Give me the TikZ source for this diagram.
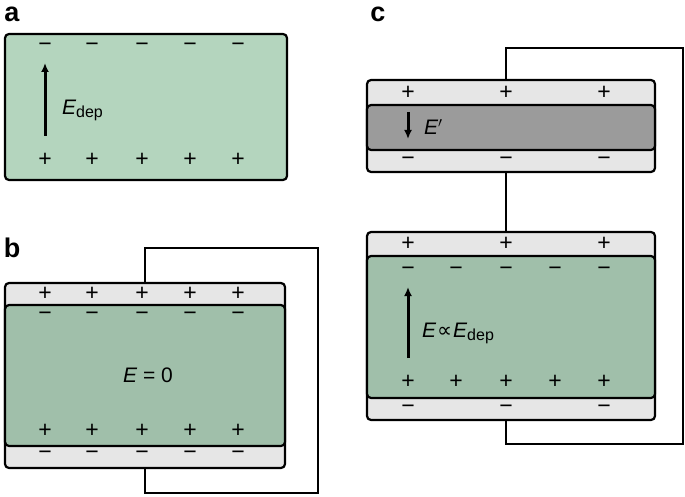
\documentclass[tikz,border=0pt]{standalone}
\usepackage{fontspec}
\setmainfont{Liberation Sans}
\newfontfamily\symf{DejaVu Sans}
\usetikzlibrary{arrows.meta}
\definecolor{lg}{HTML}{B4D5BE}
\definecolor{dg}{HTML}{A0BFAA}
\definecolor{pl}{HTML}{E6E6E6}
\definecolor{dk}{HTML}{9B9B9B}
\begin{document}
\begin{tikzpicture}[x=1pt,y=-1pt,
  box/.style={draw=black,line width=2.2pt,rounded corners=4pt},
  wire/.style={draw=black,line width=2.4pt},
  sg/.style={font=\fontsize{23}{23}\selectfont,inner sep=0pt},
  lab/.style={font=\bfseries\fontsize{27}{27}\selectfont,inner sep=0pt},
  fld/.style={-{Latex[length=9pt,width=8pt]},line width=3pt},
  txt/.style={font=\fontsize{21}{21}\selectfont,inner sep=0pt}]
\useasboundingbox (0,0) rectangle (685,497);
% panel a
\node[lab] (la) at (12,14) {a};
\draw[box,fill=lg] (5,34) rectangle (287,180);
\foreach \x in {45,92,142,190,238}{\node[sg] (am\x) at (\x,47) {−};\node[sg] (ap\x) at (\x,160) {+};}
\coordinate (a1) at (45,136); \coordinate (a2) at (45,63);
\draw[fld] (a1) -- (a2);
\node[txt,anchor=west] (ea) at (62,110) {$\mathit{E}$\raisebox{-3pt}{\fontsize{16}{16}\selectfont dep}};
% panel b
\node[lab] (lb) at (12,248) {b};
\draw[wire] (145,283) -- (145,248) -- (318,248) -- (318,493) -- (145,493) -- (145,468);
\draw[box,fill=pl] (5,283) rectangle (285,468);
\draw[box,fill=dg] (5,305) rectangle (285,446);
\foreach \x in {45,92,142,190,238}{\node[sg] at (\x,294) {+};\node[sg] at (\x,316) {−};\node[sg] at (\x,431) {+};\node[sg] at (\x,455) {−};}
\node[txt] (eb) at (148,375) {$\mathit{E}$ = 0};
% panel c
\node[lab] (lc) at (378,14) {c};
\draw[wire] (506,80) -- (506,48) -- (683,48) -- (683,444) -- (506,444) -- (506,420);
\draw[wire] (506,172) -- (506,232);
\draw[box,fill=pl] (367,80) rectangle (655,172);
\draw[box,fill=dk] (367,105) rectangle (655,150);
\foreach \x in {408,506,604}{\node[sg] at (\x,93) {+};\node[sg] at (\x,161) {−};}
\draw[fld] (408,112) -- (408,139);
\node[txt,anchor=west] (ep) at (424,127) {$\mathit{E}'$};
\draw[box,fill=pl] (367,232) rectangle (655,420);
\draw[box,fill=dg] (367,256) rectangle (655,398);
\foreach \x in {408,506,604}{\node[sg] at (\x,244) {+};\node[sg] at (\x,409) {−};}
\foreach \x in {408,456,506,555,604}{\node[sg] at (\x,271) {−};\node[sg] at (\x,382) {+};}
\draw[fld] (408,358) -- (408,287);
\node[txt,anchor=west] (ec) at (422,333) {$\mathit{E}$\hspace{1pt}{\symf ∝}\hspace{1pt}$\mathit{E}$\raisebox{-3pt}{\fontsize{16}{16}\selectfont dep}};
\end{tikzpicture}
\end{document}
